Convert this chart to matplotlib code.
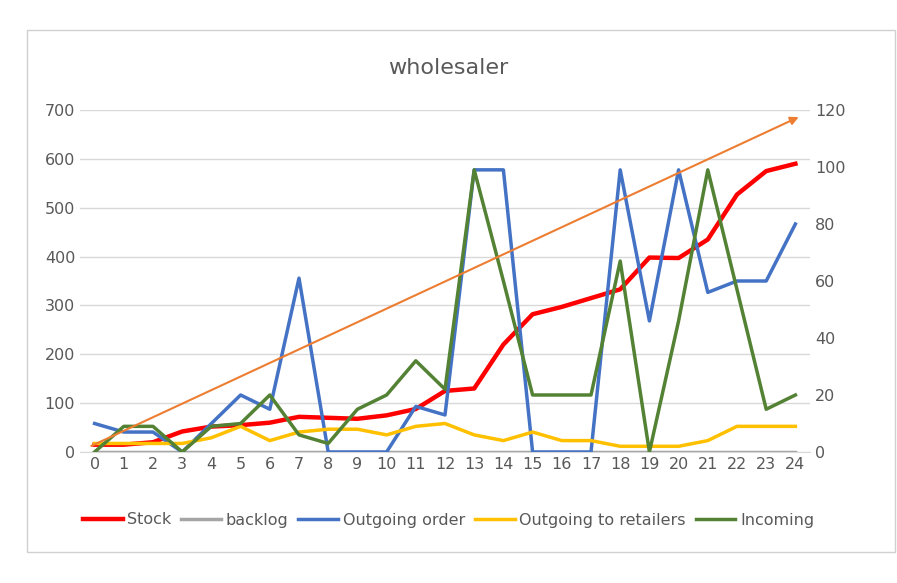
import matplotlib.pyplot as plt
import matplotlib.patches as mpatches

x = list(range(25))
stock = [15,15,20,42,52,55,60,72,70,68,75,88,125,130,220,282,297,315,333,398,397,435,527,575,590]
backlog = [0]*25
outgoing_order = [10,7,7,0,10,20,15,61,0,0,0,16,13,99,99,0,0,0,99,46,99,56,60,60,80]
outgoing_retail = [3,3,3,3,5,9,4,7,8,8,6,9,10,6,4,7,4,4,2,2,2,4,9,9,9]
incoming = [0,9,9,0,9,10,20,6,3,15,20,32,22,99,60,20,20,20,67,0,46,99,57,15,20]

fig = plt.figure(figsize=(8.97,5.83), dpi=100)
fig.patches.append(mpatches.Rectangle((27/897, 1-552/583), 868/897, 522/583, transform=fig.transFigure,
                                      fill=False, edgecolor='#d0d0d0', lw=1))
ax = fig.add_axes([80/897, 1-452/583, 730/897, 342/583])
ax2 = ax.twinx()
tc = '#595959'
ax.set_ylim(0,700); ax2.set_ylim(0,120)
ax.set_xlim(-0.5,24.5)
ax.set_yticks(range(0,701,100)); ax2.set_yticks(range(0,121,20))
ax.set_xticks(x)
for a in (ax, ax2):
    for s in a.spines.values(): s.set_visible(False)
    a.tick_params(length=0, colors=tc, labelsize=11.5)
ax.spines['bottom'].set_visible(True); ax.spines['bottom'].set_color('#d9d9d9')
ax.grid(axis='y', color='#d9d9d9', lw=1)
ax.set_axisbelow(True)
l1, = ax.plot(x, stock, color='#ff0000', lw=3.2, label='Stock', zorder=5)
l2, = ax2.plot(x, backlog, color='#a5a5a5', lw=2.5, label='backlog')
l3, = ax2.plot(x, outgoing_order, color='#4472c4', lw=2.5, label='Outgoing order')
l4, = ax2.plot(x, outgoing_retail, color='#ffc000', lw=2.5, label='Outgoing to retailers')
l5, = ax2.plot(x, incoming, color='#548235', lw=2.5, label='Incoming')
ax2.annotate('', xy=(24.2,688), xytext=(-0.2,10), xycoords=ax.transData, textcoords=ax.transData,
             arrowprops=dict(arrowstyle='-|>', color='#ed7d31', lw=1.5, mutation_scale=12))
fig.text(0.5, 1-68/583, 'wholesaler', ha='center', va='center', fontsize=16, color=tc)
fig.legend(handles=[l1,l2,l3,l4,l5], loc='center', bbox_to_anchor=(0.5, 1-520/583), ncol=5,
           frameon=False, fontsize=11.5, labelcolor=tc, handlelength=2.5, columnspacing=0.6, handletextpad=0.3)
fig.savefig('out.png', dpi=100)
